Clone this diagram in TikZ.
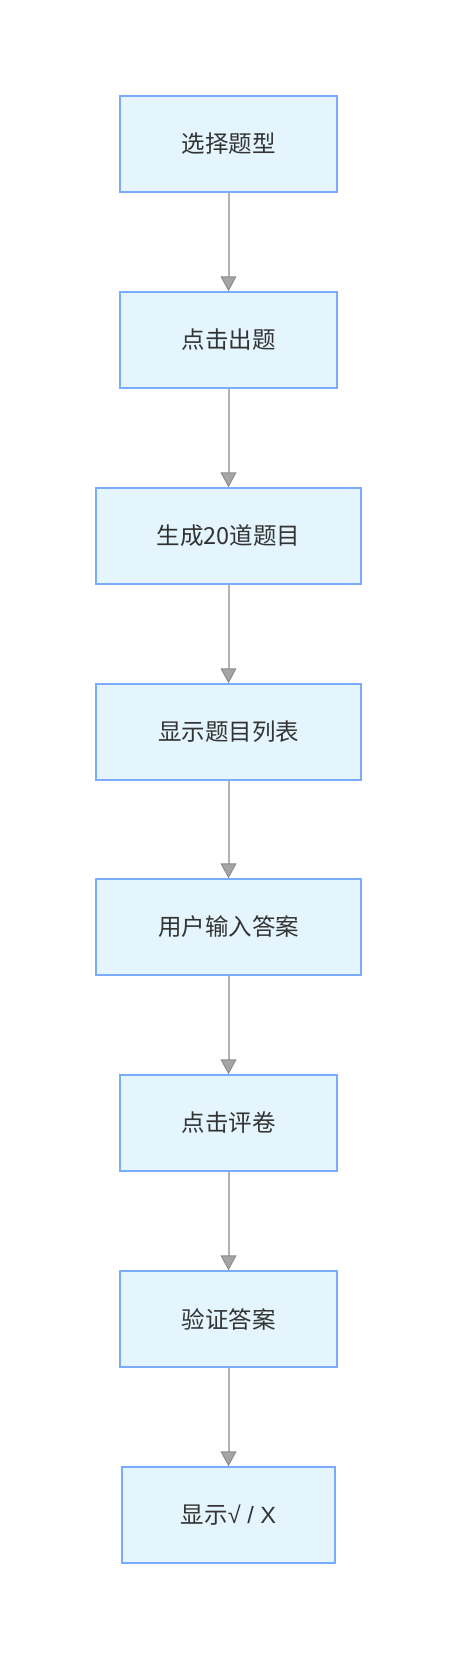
\documentclass[tikz,border=0pt]{standalone}
\usepackage{fontspec}
\setmainfont{Noto Sans CJK SC}
\newfontfamily\symfont{Liberation Sans}
\usetikzlibrary{arrows.meta}
\definecolor{BoxFill}{HTML}{E4F5FE}
\definecolor{BoxLine}{HTML}{7BABFC}
\definecolor{FlowGray}{HTML}{B3B3B3}
\definecolor{TipFill}{HTML}{A5A5A5}
\definecolor{TipLine}{HTML}{8C8C8C}
\definecolor{TextGray}{HTML}{333333}
\tikzset{
  stepbox/.style={draw=BoxLine, fill=BoxFill, line width=1.5pt, inner sep=0pt,
    minimum height=96pt, text=TextGray, font=\fontsize{23.5}{28}\selectfont},
  narrowbox/.style={stepbox, minimum width=217pt},
  widebox/.style={stepbox, minimum width=265pt},
  flow/.style={-{Triangle[length=15pt, width=16pt, fill=TipFill, color=TipLine, line width=1pt]},
    draw=FlowGray, line width=2pt}
}
\begin{document}
\begin{tikzpicture}[x=1pt, y=-1pt]
                \useasboundingbox (0, 0) rectangle (457, 1660);
                \node[narrowbox] (type) at (228.5, 144) {选择题型};
                \node[narrowbox] (click) at (228.5, 340) {点击出题};
                \node[widebox] (gen) at (228.5, 536) {生成20道题目};
                \node[widebox] (list) at (228.5, 732) {显示题目列表};
                \node[widebox] (input) at (228.5, 927) {用户输入答案};
                \node[narrowbox] (grade) at (228.5, 1123) {点击评卷};
                \node[narrowbox] (check) at (228.5, 1319) {验证答案};
                \node[stepbox, minimum width=213pt] (result) at (228.5, 1515) {显示{\symfont √ / X}};
                
                % Flow
                \draw[flow] (type) -- (click);
                \draw[flow] (click) -- (gen);
                \draw[flow] (gen) -- (list);
                \draw[flow] (list) -- (input);
                \draw[flow] (input) -- (grade);
                \draw[flow] (grade) -- (check);
                \draw[flow] (check) -- (result);
            \end{tikzpicture}
\end{document}
